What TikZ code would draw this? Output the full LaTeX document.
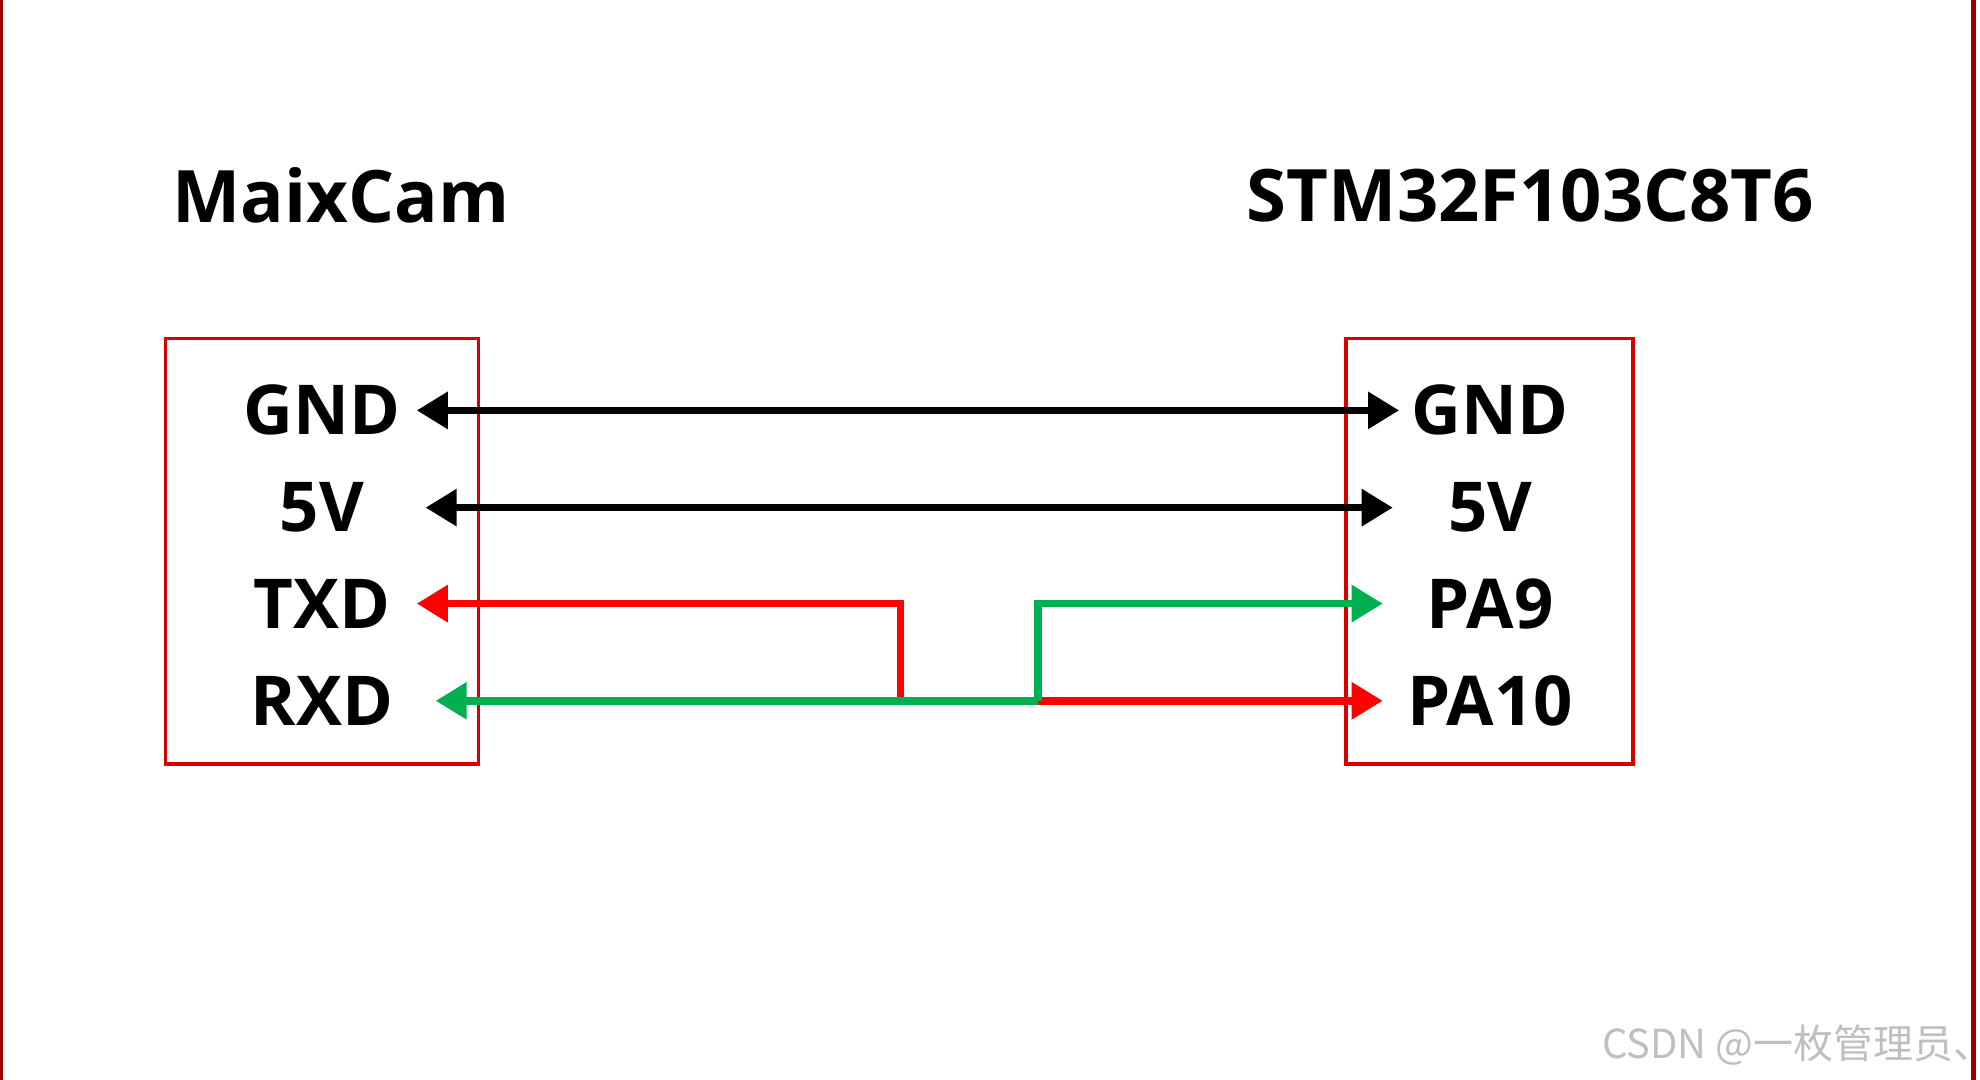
\documentclass[tikz,border=0pt]{standalone}
\usepackage{fontspec}
\setmainfont{Open Sans}
\newfontfamily\cjk{Noto Sans CJK SC}
\usetikzlibrary{arrows.meta}
\definecolor{wgreen}{HTML}{00B050}
\begin{document}
\begin{tikzpicture}[x=0.01cm,y=-0.01cm,
  lbl/.style={font=\fontsize{15.5}{18}\selectfont\bfseries,inner sep=0},
  ttl/.style={font=\fontsize{16.3}{18}\selectfont\bfseries,inner sep=0},
  box/.style={draw=red!85!black,line width=0.8pt},
  wire/.style={line width=1.7pt},
  tip/.style={-{Triangle[length=7pt,width=8pt]}},
  tips/.style={{Triangle[length=7pt,width=8pt]}-{Triangle[length=7pt,width=8pt]}}]
\useasboundingbox (0,0) rectangle (1568,855);
\draw[draw=red!60!black,line width=1pt] (1,0) -- (1,855) (1563,0) -- (1563,855);
\node[ttl] (t1) at (270,155) {MaixCam};
\node[ttl] (t2) at (1212,155) {STM32F103C8T6};
\draw[box] (131,268) rectangle (379,605);
\draw[box] (1066,268) rectangle (1293,605);
\node[lbl] (lg) at (255,325) {GND};
\node[lbl] (l5) at (255,402) {5V};
\node[lbl] (lt) at (255,478) {TXD};
\node[lbl] (lr) at (255,555) {RXD};
\node[lbl] (rg) at (1180,325) {GND};
\node[lbl] (r5) at (1180,402) {5V};
\node[lbl] (r9) at (1180,478) {PA9};
\node[lbl] (r10) at (1180,555) {PA10};
\coordinate (a1) at (330,325); \coordinate (b1) at (1108,325);
\coordinate (a2) at (337,402); \coordinate (b2) at (1103,402);
\coordinate (a3) at (330,478); \coordinate (j1) at (713,553);
\coordinate (a4) at (345,555); \coordinate (j2) at (822,555);
\coordinate (b3) at (1095,478); \coordinate (b4) at (1095,555);
\draw[wire,tips] (a1) -- (b1);
\draw[wire,tips] (a2) -- (b2);
\draw[wire,tip,red] (j1) |- (a3);
\draw[wire,tip,red] (j2) -- (b4);
\draw[wire,tip,wgreen] (j2) |- (b3);
\draw[wire,tip,wgreen] (j2) -- (a4);
\node[font=\cjk\fontsize{9}{12}\selectfont,text=gray!50,anchor=west,inner sep=0] (wm) at (1268,828) {CSDN @一枚管理员、};
\end{tikzpicture}
\end{document}
